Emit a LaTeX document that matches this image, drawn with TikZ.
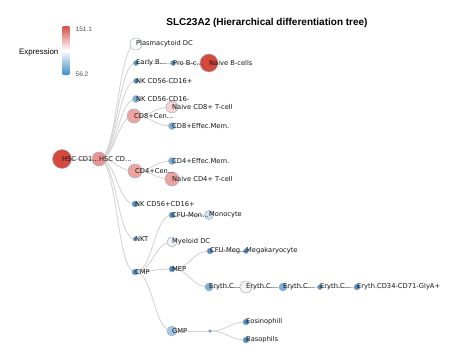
\documentclass[tikz,border=0pt]{standalone}
\usepackage{fontspec}
\newfontfamily\lab{DejaVu Sans}
\newfontfamily\hv{Liberation Sans}
\usetikzlibrary{calc,backgrounds}
\pgfdeclarelayer{fg}
\pgfsetlayers{background,main,fg}
\definecolor{redD}{RGB}{215,72,60}
\definecolor{redM}{RGB}{233,150,147}
\definecolor{redL}{RGB}{237,163,160}
\definecolor{pinkL}{RGB}{243,212,210}
\definecolor{blueD}{RGB}{78,142,196}
\definecolor{blueM}{RGB}{125,173,214}
\definecolor{blueL}{RGB}{162,199,229}
\definecolor{blueVL}{RGB}{208,224,238}
\definecolor{whiteB}{RGB}{236,241,246}
\definecolor{whiteR}{RGB}{246,243,243}
\definecolor{strokec}{RGB}{165,178,196}
\definecolor{edgec}{RGB}{212,212,212}
\definecolor{barTop}{RGB}{214,80,70}
\definecolor{barBot}{RGB}{60,140,200}
\tikzset{
  cell/.style={circle, draw=strokec, line width=0.5pt, inner sep=0pt, minimum size=#1pt},
  lbl/.style={anchor=west, inner sep=0pt, text=black!92, font=\lab\fontsize{6.7}{7}\selectfont},
  edge/.style={draw=edgec, line width=0.9pt},
  leg/.style={font=\hv\fontsize{6.5}{7}\selectfont, text=black!70, anchor=west, inner sep=0pt}
}
\newcommand{\lnk}[2]{\draw[edge] let \p1=(#1.center), \p2=(#2.center) in (\p1) .. controls ({(\x1+\x2)/2},\y1) and ({(\x1+\x2)/2},\y2) .. (\p2);}
\newcommand{\cellnode}[6]{\node[cell=#4, fill=#5] (#1) at (#2,#3) {}; \begin{pgfonlayer}{fg}\node[lbl] (#1-l) at (#1.center) {#6};\end{pgfonlayer}}
\begin{document}
\begin{tikzpicture}[x=1pt,y=-1pt]
\useasboundingbox (0,0) rectangle (474,364);
% title
\node[font=\hv\bfseries\fontsize{10}{12}\selectfont] (title) at (267,23) {SLC23A2 (Hierarchical differentiation tree)};
% legend
\node[font=\hv\fontsize{7.9}{9}\selectfont, anchor=east, inner sep=0pt] (exprlab) at (58.5,52) {Expression};
\begin{scope}
\clip[rounded corners=2pt] (62,26) rectangle (70,75);
\shade[top color=barTop, bottom color=white] (62,26) rectangle (70,50.5);
\shade[top color=white, bottom color=barBot] (62,50.5) rectangle (70,75);
\end{scope}
\node[leg] (hi) at (75.5,29.5) {151.1};
\node[leg] (lo) at (75.5,74) {56.2};
% nodes
\cellnode{hsc1}{62}{159}{19}{redD}{HSC CD1...}
\cellnode{hsc2}{99}{159}{14}{redM}{HSC CD...}
\cellnode{pdc}{136}{44}{12}{white}{Plasmacytoid DC}
\cellnode{earlyb}{136}{63}{5}{blueD}{Early B...}
\cellnode{prob}{173}{63}{5}{blueD}{Pro B-c...}
\cellnode{naiveb}{209}{63}{18}{redD}{Naive B-cells}
\cellnode{nka}{136}{81}{5}{blueD}{NK CD56-CD16+}
\cellnode{nkb}{136}{99}{7}{blueM}{NK CD56-CD16-}
\cellnode{cdec}{134}{116}{14}{redL}{CD8+Cen...}
\cellnode{cden}{172}{107}{12}{pinkL}{Naive CD8+ T-cell}
\cellnode{cdee}{172}{126}{7}{blueM}{CD8+Effec.Mem.}
\cellnode{cdfc}{135}{171}{14}{redL}{CD4+Cen...}
\cellnode{cdfe}{172}{161}{7}{blueM}{CD4+Effec.Mem.}
\cellnode{cdfn}{172}{179}{14}{redL}{Naive CD4+ T-cell}
\cellnode{nkc}{135}{204}{6}{blueD}{NK CD56+CD16+}
\cellnode{cfumon}{172}{215}{6}{blueD}{CFU-Mon...}
\cellnode{mono}{209}{215}{9}{blueVL}{Monocyte}
\cellnode{nkt}{135}{239}{4}{blueD}{NKT}
\cellnode{mdc}{172}{242}{10}{whiteB}{Myeloid DC}
\cellnode{cmp}{135}{272}{6}{blueD}{CMP}
\cellnode{mep}{172}{269}{6}{blueD}{MEP}
\cellnode{cfumeg}{210}{251}{6}{blueD}{CFU-Meg...}
\cellnode{mk}{246}{251}{5}{blueD}{Megakaryocyte}
\cellnode{ea}{209}{287}{8}{blueM}{Eryth.C...}
\cellnode{eb}{246}{287}{12}{whiteR}{Eryth.C...}
\cellnode{ec}{283}{287}{8}{blueM}{Eryth.C...}
\cellnode{ed}{320}{287}{5}{blueD}{Eryth.C...}
\cellnode{ee}{357}{287}{6}{blueD}{Eryth.CD34-CD71-GlyA+}
\cellnode{gmp}{172}{331}{10}{blueL}{GMP}
\node[cell=3, fill=blueD] (gdot) at (210,331) {};
\cellnode{eos}{246}{322}{6}{blueD}{Eosinophill}
\cellnode{baso}{246}{340}{6}{blueD}{Basophils}
% edges
\begin{pgfonlayer}{background}
\lnk{hsc1}{hsc2}
\lnk{hsc2}{pdc}
\lnk{hsc2}{earlyb}
\lnk{hsc2}{nka}
\lnk{hsc2}{nkb}
\lnk{hsc2}{cdec}
\lnk{hsc2}{cdfc}
\lnk{hsc2}{nkc}
\lnk{hsc2}{nkt}
\lnk{hsc2}{cmp}
\lnk{earlyb}{prob}
\lnk{prob}{naiveb}
\lnk{cdec}{cden}
\lnk{cdec}{cdee}
\lnk{cdfc}{cdfe}
\lnk{cdfc}{cdfn}
\lnk{cmp}{cfumon}
\lnk{cfumon}{mono}
\lnk{cmp}{mdc}
\lnk{cmp}{mep}
\lnk{cmp}{gmp}
\lnk{mep}{cfumeg}
\lnk{cfumeg}{mk}
\lnk{mep}{ea}
\lnk{ea}{eb}
\lnk{eb}{ec}
\lnk{ec}{ed}
\lnk{ed}{ee}
\lnk{gmp}{gdot}
\lnk{gdot}{eos}
\lnk{gdot}{baso}
\end{pgfonlayer}
\end{tikzpicture}
\end{document}
